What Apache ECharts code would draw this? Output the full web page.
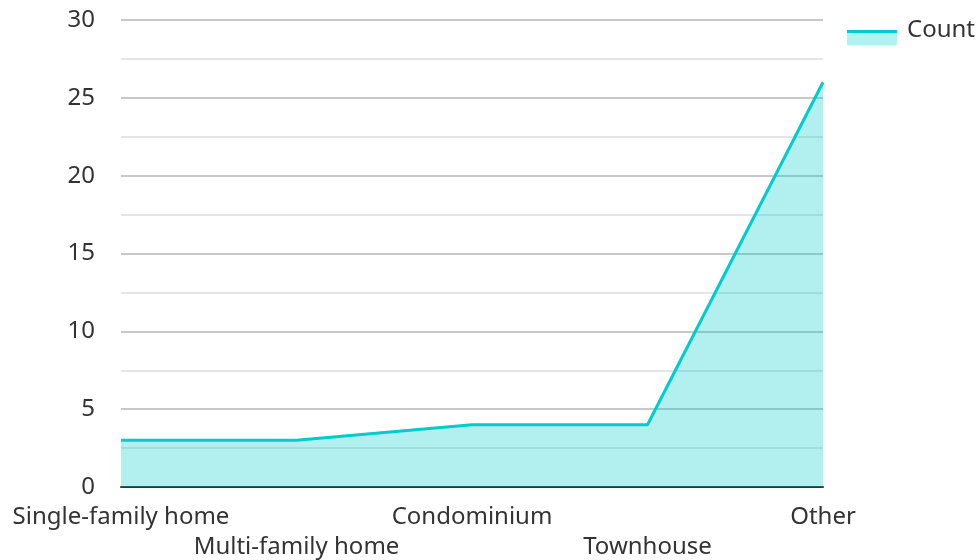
<!DOCTYPE html>
<html>
<head>
<meta charset="utf-8">
<script src="https://cdn.jsdelivr.net/npm/echarts@6/dist/echarts.min.js"></script>
<style>html,body{margin:0;padding:0;background:#fff}#c{width:980px;height:560px}</style>
</head>
<body>
<div id="c"></div>
<script>
const categories = ['Single-family home', 'Multi-family home', 'Condominium', 'Townhouse', 'Other'];
const counts = [3, 3, 4, 4, 26];
const seriesName = 'Count';

const lineColor = '#00CCCC';
const areaColor = 'rgba(0,204,204,0.3)';

const chart = echarts.init(document.getElementById('c'), null, {renderer: 'canvas'});
chart.setOption({
  animation: false,
  textStyle: {fontFamily: 'Noto Sans'},
  grid: {left: 121, right: 157, top: 20, bottom: 73, containLabel: false, outerBoundsMode: 'none'},
  legend: {
    data: [{name: seriesName, icon: 'rect'}],
    right: 0, top: 11,
    itemWidth: 50, itemHeight: 29, itemGap: 10,
    itemStyle: {
      color: new echarts.graphic.LinearGradient(0, 0, 0, 1, [
        {offset: 0, color: 'rgba(255,255,255,0)'}, {offset: 0.483, color: 'rgba(255,255,255,0)'},
        {offset: 0.483, color: lineColor}, {offset: 0.6, color: lineColor},
        {offset: 0.6, color: '#b3f0f0'}, {offset: 1, color: '#b3f0f0'}
      ]),
      borderWidth: 0
    },
    lineStyle: {width: 0},
    textStyle: {fontSize: 24, color: '#333', fontFamily: 'Noto Sans', padding: [0, 0, 0, 5]}
  },
  xAxis: {
    type: 'category',
    data: categories,
    boundaryGap: false,
    axisLine: {lineStyle: {color: '#333', width: 2}},
    axisTick: {show: false},
    axisLabel: {
      interval: 0,
      fontSize: 24, color: '#333', margin: 15, lineHeight: 30,
      formatter: function (v, i) { return i % 2 === 1 ? '\n' + v : v; }
    }
  },
  yAxis: {
    type: 'value',
    min: 0, max: 30, interval: 5,
    axisLine: {show: false},
    axisTick: {show: false},
    axisLabel: {fontSize: 24, color: '#333', margin: 26},
    splitLine: {lineStyle: {color: '#c8c8c8', width: 2}},
    minorTick: {show: false, splitNumber: 2},
    minorSplitLine: {show: true, lineStyle: {color: '#e6e6e6', width: 2}}
  },
  series: [{
    name: seriesName,
    type: 'line',
    data: counts,
    showSymbol: false,
    symbol: 'none',
    lineStyle: {color: lineColor, width: 3},
    itemStyle: {color: lineColor},
    areaStyle: {color: areaColor, opacity: 1}
  }]
});
</script>
</body>
</html>
